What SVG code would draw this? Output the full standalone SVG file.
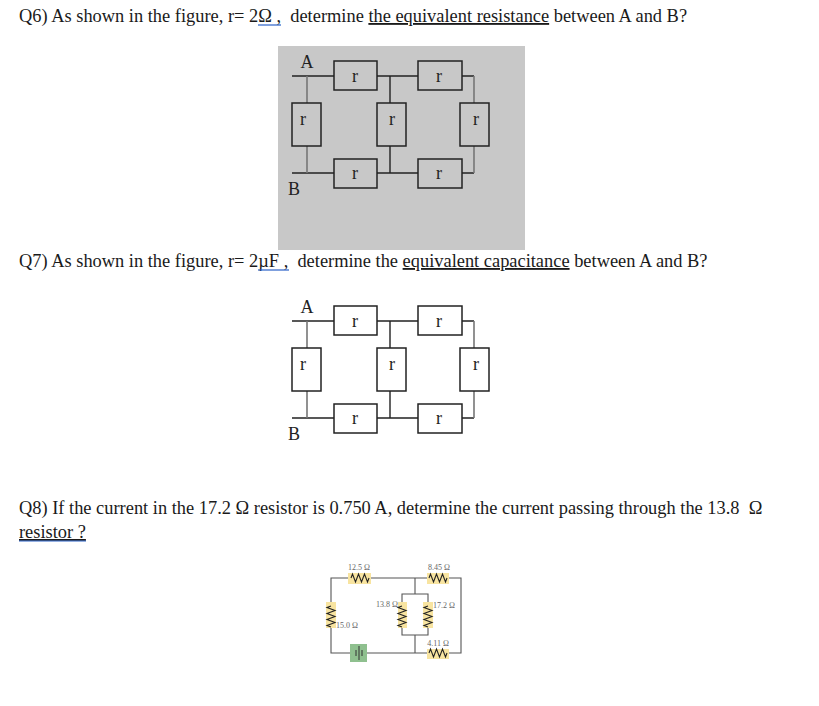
<svg xmlns="http://www.w3.org/2000/svg" width="819" height="706" viewBox="0 0 819 706">
<style>
.q{font-family:"Liberation Serif","Times New Roman",serif;font-size:18.4px;fill:#1a1a1a;white-space:pre}
.u{text-decoration:underline}
.r{font-family:"Liberation Serif",serif;font-size:18px;fill:#222;text-anchor:middle}
.box{fill:none;stroke:#222;stroke-width:1.5}
.w{fill:none;stroke:#222;stroke-width:1.4}
.g{fill:none;stroke:#777;stroke-width:1.6}
.sq{stroke:#2a62c8;stroke-width:1.2;fill:none}
.c{fill:none;stroke:#555;stroke-width:1.1}
.z{fill:none;stroke:#222;stroke-width:1.1}
.y{fill:#f8e4a0}
.t{font-family:"Liberation Serif",serif;font-size:8px;fill:#666;text-anchor:middle}
</style>
<defs>
<g id="net">
<path class="w" d="M292 76H334M377 76H418M462 76H474M292 173H334M377 173H418M462 173H474M390 76V103M390 146V173"/>
<path class="g" d="M307 76V103M307 146V173M474 76V103M474 146V173"/>
<rect class="box" x="334" y="61" width="43" height="29"/>
<rect class="box" x="418" y="61" width="44" height="29"/>
<rect class="box" x="292" y="103" width="29" height="43"/>
<rect class="box" x="377" y="103" width="29" height="43"/>
<rect class="box" x="460" y="103" width="29" height="43"/>
<rect class="box" x="334" y="159" width="43" height="29"/>
<rect class="box" x="418" y="159" width="44" height="29"/>
<g class="r">
<text x="355" y="82">r</text><text x="439" y="82">r</text>
<text x="303" y="125">r</text><text x="392" y="125">r</text><text x="476" y="125">r</text>
<text x="355" y="179">r</text><text x="439" y="179">r</text>
<text x="307" y="68">A</text><text x="294" y="195">B</text>
</g>
</g>
<path id="zh" class="z" d="M0 0l1.5-4 3 8 3-8 3 8 3-8 3 8 1.5-4"/>
<path id="zv" class="z" d="M0 0l-4 1.5 8 3-8 3 8 3-8 3 8 3-8 3 4 1.5"/>
</defs>

<g id="q6">
<text class="q" x="19" y="22">Q6) As shown in the figure, r= 2Ω ,  determine <tspan class="u">the equivalent resistance</tspan> between A and B?</text>
<path class="sq" d="M258 25H281"/>
</g>
<rect id="panel" x="278" y="46" width="247" height="204" fill="#c8c8c8"/>
<g id="resistor-network"><use href="#net"/></g>

<g id="q7">
<text class="q" x="19" y="267">Q7) As shown in the figure, r= 2µF ,  determine the <tspan class="u">equivalent capacitance</tspan> between A and B?</text>
<path class="sq" d="M258 270H289"/>
</g>
<g id="capacitor-network" transform="translate(0 245)"><use href="#net"/></g>

<g id="q8">
<text class="q" x="19" y="514">Q8) If the current in the 17.2 Ω resistor is 0.750 A, determine the current passing through the 13.8  Ω</text>
<text class="q u" x="19" y="538">resistor ?</text>
<path class="sq" d="M19 541H86"/>
</g>

<g id="connectors">
<path class="c" d="M349 578H331V653H350M367 653H461V578H428M349 578H428M415 578V594M402 594H428V635H402ZM415 635V653"/>
</g>
<g id="r125"><rect class="y" x="348" y="573" width="23" height="11"/><use href="#zh" x="351" y="578"/><text class="t" x="359" y="570">12.5 Ω</text></g>
<g id="r845"><rect class="y" x="427" y="573" width="22" height="11"/><use href="#zh" x="429" y="578"/><text class="t" x="439" y="570">8.45 Ω</text></g>
<g id="r150"><rect class="y" x="326" y="602" width="10" height="26"/><use href="#zv" x="331" y="606"/><text class="t" x="347" y="628">15.0 Ω</text></g>
<g id="r138"><rect class="y" x="398" y="602" width="9" height="26"/><use href="#zv" x="402" y="606"/><text class="t" x="387" y="607">13.8 Ω</text></g>
<g id="r172"><rect class="y" x="423" y="602" width="10" height="26"/><use href="#zv" x="428" y="606"/><text class="t" x="444" y="608">17.2 Ω</text></g>
<g id="r411"><rect class="y" x="427" y="649" width="22" height="10"/><use href="#zh" x="429" y="653"/><text class="t" x="438" y="646">4.11 Ω</text></g>
<g id="battery"><rect x="350" y="644" width="17" height="18" fill="#8fc08f"/><path d="M356 650V656M359 646V660M362 650V656" stroke="#333" stroke-width="1" fill="none"/></g>
</svg>
